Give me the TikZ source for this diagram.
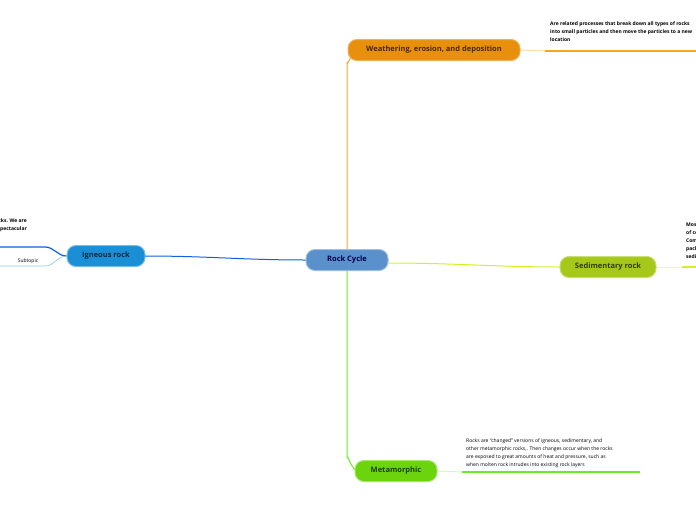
\documentclass[tikz,border=0pt]{standalone}
\usepackage{fontspec}
\setmainfont{Open Sans}
\begin{document}
\begin{tikzpicture}[x=1pt,y=-1pt,
 topic/.style={rounded corners=9pt,minimum height=21pt,font=\bfseries\fontsize{7.5}{9}\selectfont,inner sep=2pt,line width=1pt},
 note/.style={font=\fontsize{5}{8}\selectfont,align=left,inner sep=0pt},
 bnote/.style={note,font=\bfseries\fontsize{5}{8}\selectfont}]
\definecolor{cbl}{HTML}{5A90CC}\definecolor{cor}{HTML}{E8900C}\definecolor{cig}{HTML}{1A8FD6}
\definecolor{cse}{HTML}{A6C81B}\definecolor{cme}{HTML}{6CD40C}
\definecolor{lor}{HTML}{F5A623}\definecolor{lse}{HTML}{D4F020}\definecolor{lme}{HTML}{66EE22}\definecolor{lig}{HTML}{1060E0}
\useasboundingbox (0,0) rectangle (696,520);
\clip (0,0) rectangle (696,520);
% connectors
\draw[lor,line width=1pt] (347,250) -- (347,62) to[out=-90,in=180] (358,50);
\draw[lme,line width=1pt] (347,270) -- (347,458) to[out=90,in=180] (358,471);
\draw[lse,line width=1pt] (388,263) to[out=0,in=180] (562,267);
\draw[lig,line width=1pt] (306,260) to[out=180,in=0] (145,256);
\node[topic,fill=cbl,draw=cbl!60!white,text=black!70!blue,minimum width=82pt] (rc) at (347,260) {Rock Cycle};
\node[topic,fill=cor,draw=cor!70!white,text=black!70!cor,minimum width=172pt] (we) at (434,50) {Weathering, erosion, and deposition};
\node[topic,fill=cig,draw=cig!60!white,text=black!70!cig,minimum width=78pt] (ig) at (106,256) {Igneous rock};
\node[topic,fill=cse,draw=cse!60!white,text=black!70!cse,minimum width=96pt] (se) at (608,267) {Sedimentary rock};
\node[topic,fill=cme,draw=cme!60!white,text=black!70!cme,minimum width=82pt] (me) at (396,471) {Metamorphic};
% notes
\draw[lor!40!white,line width=1pt] (we.east) -- (545,51);
\draw[lor,line width=1.5pt] (545,51) -- (696,51);
\node[bnote,anchor=north west] (wt) at (550,21) {Are related processes that break down all types of rocks\\into small particles and then move the particles to a new\\location};
\draw[lse!40!white,line width=1pt] (se.east) -- (682,267);
\draw[lse,line width=1.5pt] (682,267) -- (696,267);
\node[bnote,anchor=north west] (st) at (686,222) {Most sedimentary rocks\\of compressed particles.\\Compaction occurs when\\packed together\\sediments};
\draw[lme!30!white,line width=1pt] (me.east) -- (462,472);
\draw[lme,line width=1.2pt] (462,472) -- (640,472);
\node[note,anchor=north west] (mt) at (466,438) {Rocks are ``changed'' versions of igneous, sedimentary, and\\other metamorphic rocks,. Then changes occur when the rocks\\are exposed to great amounts of heat and pressure, such as\\when molten rock intrudes into existing rock layers};
\node[bnote,anchor=north east,align=right] (it) at (27,218) {rocks. We are\\spectacular};
\draw[lig,line width=1.2pt] (ig.west) to[out=180,in=0] (45,247) -- (0,247);
\draw[cig!50!white,line width=.6pt] (ig.west) to[out=180,in=0] (45,266) -- (0,266);
\node[note,anchor=base] (sub) at (28,262) {Subtopic};
\end{tikzpicture}
\end{document}
